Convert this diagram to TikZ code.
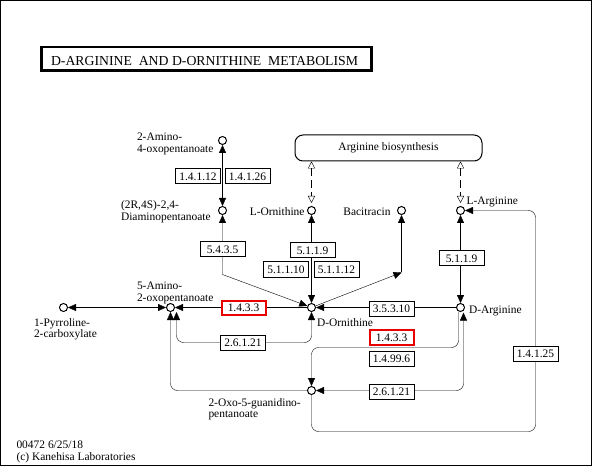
\documentclass[tikz,border=0pt]{standalone}
\usepackage{fontspec}
\setmainfont{Liberation Serif}
\usetikzlibrary{arrows.meta,backgrounds}
\definecolor{kred}{RGB}{235,0,0}
\newcommand{\fl}{\fontsize{11.5}{11.5}\selectfont}
\newcommand{\fld}{\fontsize{11.5}{12.5}\selectfont}
\begin{document}
\begin{tikzpicture}[x=1bp,y=-1bp,line width=1bp,
  cpd/.style={circle,draw,fill=white,minimum size=8bp,inner sep=0pt},
  enz/.style={draw,fill=white,minimum width=45bp,minimum height=15bp,inner sep=0pt,font=\fl},
  renz/.style={enz,draw=kred,line width=2bp,minimum width=44bp,minimum height=14.5bp},
  lbl/.style={inner sep=0pt,align=left,font=\fl},
  tip/.style={-{Triangle[length=8bp,width=7bp]}},
  both/.style={{Triangle[length=8bp,width=7bp]}-{Triangle[length=8bp,width=7bp]}},
  dsh/.style={dash pattern=on 8bp off 4bp,{Triangle[open,length=7bp,width=7bp]}-{Triangle[open,length=7bp,width=7bp]}},
  rc/.style={rounded corners=7bp}]
\useasboundingbox (0,0) rectangle (594,467);
\begin{scope}[shift={(0.5,0.5)}]
% title
\node[draw,line width=2.5bp,minimum width=330bp,minimum height=23.5bp,inner sep=0pt] (title) at (206,58.3) {};
\node[inner sep=0pt,anchor=base west,font=\fontsize{13.8}{14}\selectfont] (titletext) at (50,65) {D-ARGININE\ \ AND D-ORNITHINE\ \ METABOLISM};

% pathway box
\node[draw,rounded corners=8bp,minimum width=187bp,minimum height=26bp,inner sep=0pt,font=\fl] (argbio) at (388,147.5) {Arginine biosynthesis};

% compounds
\node[cpd] (amino4) at (222,140) {};
\node[cpd] (diamino) at (222,210) {};
\node[cpd] (lorn) at (311,210) {};
\node[cpd] (bac) at (401,210) {};
\node[cpd] (larg) at (460,210) {};
\node[cpd] (dorn) at (311,307) {};
\node[cpd] (amino5) at (170,307) {};
\node[cpd] (pyrr) at (63,307) {};
\node[cpd] (darg) at (460,307) {};
\node[cpd] (oxo) at (311,390) {};

% compound labels
\node[lbl,anchor=west] (lamino4) at (136,143.4) {2-Amino-\\4-oxopentanoate};
\node[lbl,anchor=west,font=\fld] (ldiamino) at (120,211) {(2R,4S)-2,4-\\Diaminopentanoate};
\node[lbl,anchor=base east] (llorn) at (304.5,215.5) {L-Ornithine};
\node[lbl,anchor=base east] (lbac) at (390.5,215) {Bacitracin};
\node[lbl,anchor=base west] (llarg) at (465.5,204) {L-Arginine};
\node[lbl,anchor=base west] (ldarg) at (468,313) {D-Arginine};
\node[lbl,anchor=base west] (ldorn) at (316,325.5) {D-Ornithine};
\node[lbl,anchor=west] (lamino5) at (136,292.5) {5-Amino-\\2-oxopentanoate};
\node[lbl,anchor=west] (lpyrr) at (33,328.5) {1-Pyrroline-\\2-carboxylate};
\node[lbl,anchor=west] (loxo) at (207.5,409) {2-Oxo-5-guanidino-\\pentanoate};
\node[lbl,anchor=west] (footer) at (15.5,451.5) {00472 6/25/18\\(c) Kanehisa Laboratories};

% enzymes
\node[enz] (e1) at (197.5,176) {1.4.1.12};
\node[enz] (e2) at (247,176) {1.4.1.26};
\node[enz] (e3) at (222,248.8) {5.4.3.5};
\node[enz] (e4) at (312,250) {5.1.1.9};
\node[enz] (e5) at (285.5,269) {5.1.1.10};
\node[enz] (e6) at (336,269) {5.1.1.12};
\node[enz] (e7) at (461,258) {5.1.1.9};
\node[renz] (e8) at (243,307.5) {1.4.3.3};
\node[enz] (e9) at (242.5,342) {2.6.1.21};
\node[enz] (e10) at (391,308) {3.5.3.10};
\node[renz] (e11) at (391,337) {1.4.3.3};
\node[enz] (e12) at (391,358) {1.4.99.6};
\node[enz] (e13) at (391,391) {2.6.1.21};
\node[enz] (e14) at (535,353.5) {1.4.1.25};

\coordinate (bc) at (401,272);
\coordinate (dbend) at (222,274);
\coordinate (a5r) at ([xshift=6bp]amino5.south);
\coordinate (dgl) at ([xshift=-2bp]darg.south);
\coordinate (dgr) at ([xshift=3bp,yshift=-0.6bp]darg.south);

\begin{scope}[on background layer]
\fill[white] (-0.5,-0.5) rectangle (593.5,466.5);
\draw (0,0) rectangle (591,465);
\draw[both] (amino4) -- (diamino);
\draw[both] (diamino) -- (dbend) -- (dorn);
\draw[both] (lorn) -- (dorn);
\draw[dsh,shorten >=3bp] (lorn |- argbio.south) -- (lorn);
\draw[dsh,shorten >=3bp] (larg |- argbio.south) -- (larg);
\draw[tip] (dorn) -- (bc);
\draw[tip] (bc) -- (bac);
\draw[tip] (darg) -- (dorn);
\draw[both] (larg) -- (darg);
\draw[tip] (dorn) -- (amino5);
\draw[both] (pyrr) -- (amino5);
\draw[both,rc] (dorn) |- (176,342) -- (a5r);
\draw[tip,rc] (oxo) -| (amino5);
\draw[tip,rc] (dgl) |- (311,347) -- (oxo);
\draw[both,rc] (dgr) |- (oxo);
\draw[tip,rc] (oxo) |- (535,431) |- (larg);
\end{scope}
\end{scope}
\end{tikzpicture}
\end{document}
